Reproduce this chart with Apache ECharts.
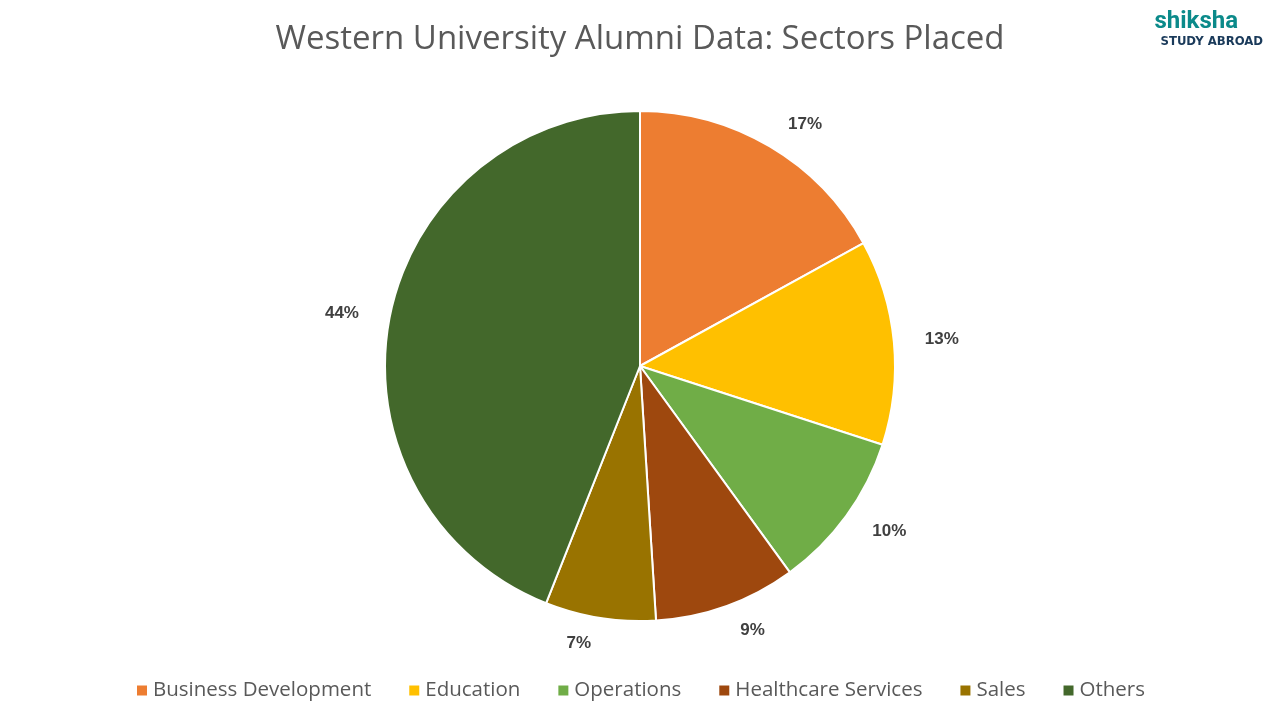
<!DOCTYPE html>
<html>
<head>
<meta charset="utf-8">
<script src="https://cdn.jsdelivr.net/npm/echarts@6/dist/echarts.min.js"></script>
<style>html,body{margin:0;padding:0;background:#fff;}</style>
</head>
<body>
<div id="main" style="width:1280px;height:720px;"></div>
<script type="text/javascript">
    // data
    var sectors = ['Business Development', 'Education', 'Operations', 'Healthcare Services', 'Sales', 'Others'];
    var shares = [17, 13, 10, 9, 7, 44];
    var colors = ['#ED7D31', '#FFC000', '#70AD47', '#9E480E', '#997300', '#43682B'];

    var myChart = echarts.init(document.getElementById('main'));

    var option = {
        backgroundColor: '#fff',
        color: colors,
        title: {
            text: 'Western University Alumni Data: Sectors Placed',
            left: 'center',
            top: 18,
            textStyle: { fontFamily: 'Open Sans', fontSize: 33, fontWeight: 'normal', color: '#595959' }
        },
        graphic: [
            { type: 'text', right: 42, top: 10, style: { text: 'shiksha', font: 'bold 24px Roboto', fill: '#0b8a8a' } },
            { type: 'text', right: 17, top: 35, style: { text: 'STUDY ABROAD', font: 'bold 13px "DejaVu Sans Condensed"', fill: '#1a3a5a' } }
        ],
        legend: {
            bottom: 14,
            left: 'center',
            itemWidth: 12,
            itemHeight: 12,
            itemGap: 36,
            icon: 'rect',
            textStyle: { fontFamily: 'Open Sans', fontSize: 20.5, color: '#595959' },
            data: sectors
        },
        series: [{
            type: 'pie',
            center: [640, 366],
            radius: 255,
            startAngle: 90,
            clockwise: true,
            itemStyle: { borderColor: '#fff', borderWidth: 2 },
            label: {
                position: 'outside',
                formatter: '{c}%',
                fontFamily: 'Liberation Sans',
                fontWeight: 'bold',
                fontSize: 17,
                color: '#404040'
            },
            labelLine: { show: false, length: 26, length2: 0 },
            emphasis: { disabled: true },
            data: sectors.map(function (s, i) { return { name: s, value: shares[i] }; })
        }]
    };

    myChart.setOption(option);
</script>
</body>
</html>
